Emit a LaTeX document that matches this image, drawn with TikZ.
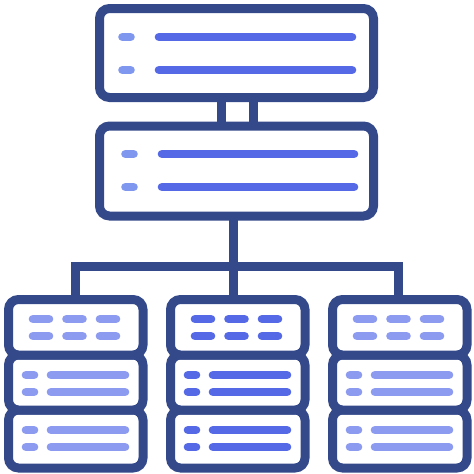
\documentclass[tikz,border=0pt]{standalone}
\begin{document}
\begin{tikzpicture}[x=1pt,y=-1pt,
  frame/.style={draw=navy,line width=9pt,rounded corners=10pt,fill=white},
  wire/.style={draw=navy,line width=9pt},
  bar/.style={line width=8.6pt,line cap=round},
  ]
\definecolor{navy}{HTML}{34498A}
\definecolor{bright}{HTML}{5569E6}
\definecolor{light}{HTML}{8C9BF0}
\definecolor{mid}{HTML}{7F97EE}
\useasboundingbox (0,0) rectangle (474,474);
\fill[white] (0,0) rectangle (474,474);
% connectors
\draw[wire] (221,100) -- (221,124);
\draw[wire] (253.5,100) -- (253.5,124);
\draw[wire] (233,216) -- (233,299);
\draw[wire] (75,299) -- (75,266) -- (398,266) -- (398,299);
% top boxes
\draw[frame] (99.5,8.5) rectangle (373.5,97.5);
\draw[frame] (99.5,126) rectangle (373.5,216);
\draw[bar,mid] (122.5,37) -- (130.5,37);
\draw[bar,mid] (122.5,70) -- (130.5,70);
\draw[bar,bright] (159,37) -- (352,37);
\draw[bar,bright] (159,70) -- (352,70);
\draw[bar,mid] (125.5,154) -- (133.5,154);
\draw[bar,mid] (125.5,187) -- (133.5,187);
\draw[bar,bright] (162,154) -- (354,154);
\draw[bar,bright] (162,187) -- (354,187);
% server stacks
\foreach \x/\c in {8.5/light,170.5/bright,332.5/light}{
  \draw[frame] (\x,410) rectangle ++(134.5,58);
  \draw[frame] (\x,355) rectangle ++(134.5,55);
  \draw[frame] (\x,299.5) rectangle ++(134.5,55.5);
  \foreach \dx in {24.5,58,91.5}{
    \draw[bar,\c] (\x+\dx,319) -- ++(16,0);
    \draw[bar,\c] (\x+\dx,336) -- ++(16,0);
  }
  \foreach \y in {375,392,430,447}{
    \draw[bar,\c] (\x+17.5,\y) -- ++(8,0);
    \draw[bar,\c] (\x+42.5,\y) -- ++(74,0);
  }
}
\end{tikzpicture}
\end{document}
